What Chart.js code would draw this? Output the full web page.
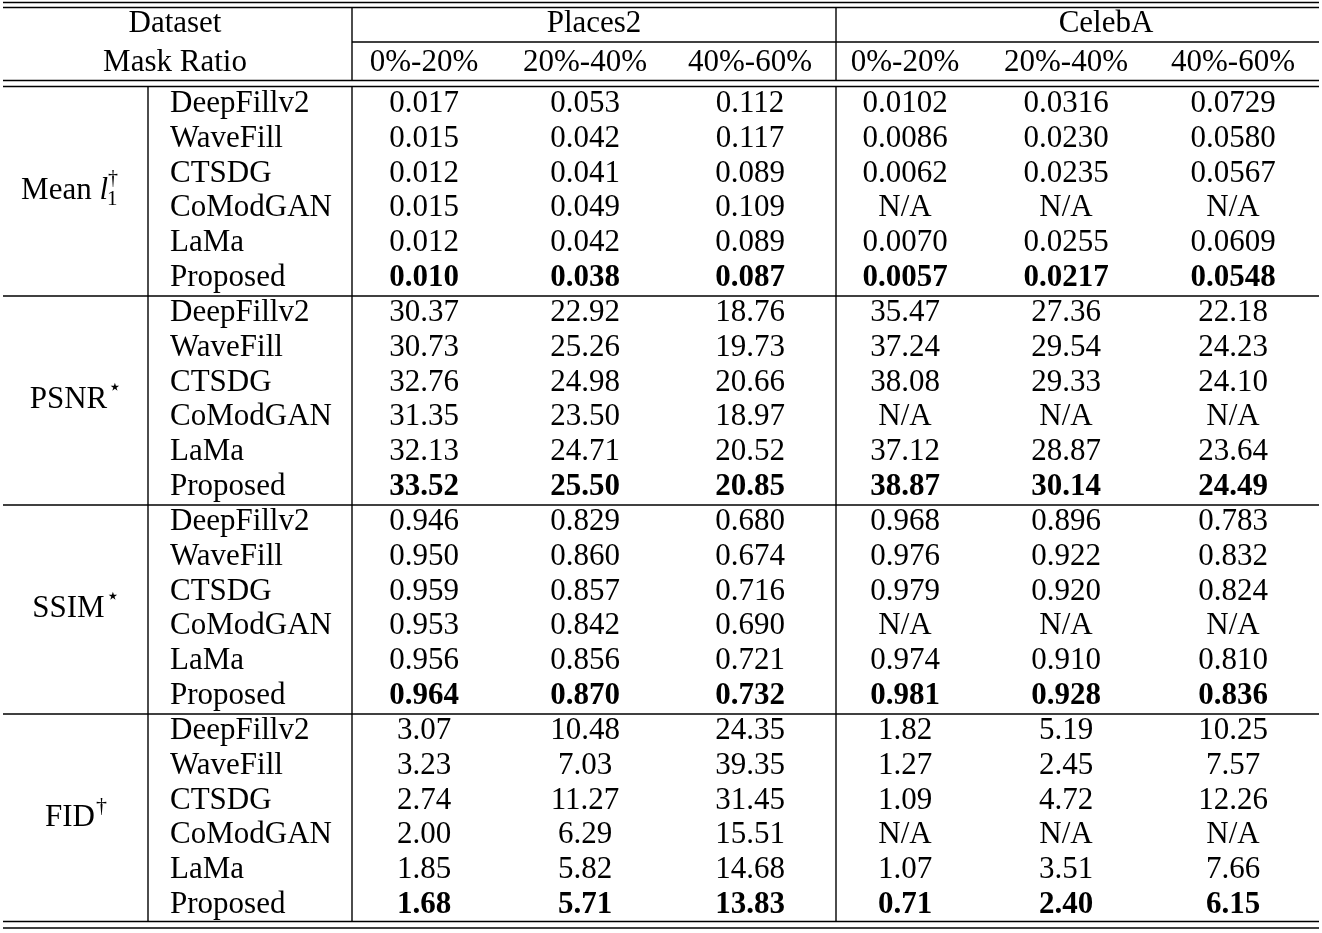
<!DOCTYPE html>
<html><head><meta charset="utf-8">
<script src="https://cdn.jsdelivr.net/npm/chart.js@4/dist/chart.umd.min.js"></script>
<style>html,body{margin:0;padding:0;background:#fff}#w{width:1322px;height:933px;position:relative}</style>
</head><body><div id="w"><canvas id="c"></canvas></div>
<script>
const datasets = ["Places2", "CelebA"];
const maskRatios = ["0%-20%", "20%-40%", "40%-60%"];
const methods = ["DeepFillv2", "WaveFill", "CTSDG", "CoModGAN", "LaMa", "Proposed"];
const metrics = ["Mean", "PSNR", "SSIM", "FID"];
const meanL1 = [
  ["0.017","0.053","0.112","0.0102","0.0316","0.0729"],
  ["0.015","0.042","0.117","0.0086","0.0230","0.0580"],
  ["0.012","0.041","0.089","0.0062","0.0235","0.0567"],
  ["0.015","0.049","0.109","N/A","N/A","N/A"],
  ["0.012","0.042","0.089","0.0070","0.0255","0.0609"],
  ["0.010","0.038","0.087","0.0057","0.0217","0.0548"]];
const psnr = [
  ["30.37","22.92","18.76","35.47","27.36","22.18"],
  ["30.73","25.26","19.73","37.24","29.54","24.23"],
  ["32.76","24.98","20.66","38.08","29.33","24.10"],
  ["31.35","23.50","18.97","N/A","N/A","N/A"],
  ["32.13","24.71","20.52","37.12","28.87","23.64"],
  ["33.52","25.50","20.85","38.87","30.14","24.49"]];
const ssim = [
  ["0.946","0.829","0.680","0.968","0.896","0.783"],
  ["0.950","0.860","0.674","0.976","0.922","0.832"],
  ["0.959","0.857","0.716","0.979","0.920","0.824"],
  ["0.953","0.842","0.690","N/A","N/A","N/A"],
  ["0.956","0.856","0.721","0.974","0.910","0.810"],
  ["0.964","0.870","0.732","0.981","0.928","0.836"]];
const fid = [
  ["3.07","10.48","24.35","1.82","5.19","10.25"],
  ["3.23","7.03","39.35","1.27","2.45","7.57"],
  ["2.74","11.27","31.45","1.09","4.72","12.26"],
  ["2.00","6.29","15.51","N/A","N/A","N/A"],
  ["1.85","5.82","14.68","1.07","3.51","7.66"],
  ["1.68","5.71","13.83","0.71","2.40","6.15"]];
const tables = [meanL1, psnr, ssim, fid];

const L = {colX:[424,585,750,905,1066,1233], methodX:170, metricX:75, rowY0:104, rowStep:34.75, secStep:209,
  font:'"Liberation Serif","Times New Roman",serif', size:31};

const tablePlugin = {
  id:'table',
  afterDraw(chart){
    const ctx = chart.ctx, X = v=>chart.scales.x.getPixelForValue(v), Y = v=>chart.scales.y.getPixelForValue(v);
    ctx.save();
    ctx.fillStyle='#000'; ctx.strokeStyle='#000'; ctx.lineWidth=1.4;
    const hl=(x1,x2,y)=>{ctx.beginPath();ctx.moveTo(X(x1),Y(y));ctx.lineTo(X(x2),Y(y));ctx.stroke();};
    const vl=(x,y1,y2)=>{ctx.beginPath();ctx.moveTo(X(x),Y(y1));ctx.lineTo(X(x),Y(y2));ctx.stroke();};
    hl(3,1319,2.5); hl(3,1319,7.5);
    hl(352,1319,42);
    hl(3,1319,80.5); hl(3,1319,86.5);
    [296,505,714].forEach(y=>hl(3,1319,y));
    hl(3,1319,921.5); hl(3,1319,928);
    vl(352,7.5,80.5); vl(836,7.5,80.5);
    vl(148,86.5,921.5); vl(352,86.5,921.5); vl(836,86.5,921.5);
    const f=(w,s,st)=>`${st||''} ${w||'normal'} ${s||L.size}px ${L.font}`;
    ctx.textBaseline='middle';
    const txt=(t,x,y,al,bold)=>{ctx.font=f(bold?'bold':'normal');ctx.textAlign=al||'center';ctx.fillText(t,X(x),Y(y));};
    txt("Dataset",175,24); txt("Mask Ratio",175,63);
    txt(datasets[0],594,24); txt(datasets[1],1106,24);
    maskRatios.concat(maskRatios).forEach((m,i)=>txt(m,L.colX[i],63));
    tables.forEach((tb,s)=>{
      const cy = L.rowY0 + s*L.secStep + 2.5*L.rowStep;
      ctx.textAlign='left';
      const sup = s===0||s===3 ? '\u2020' : '\u22C6';
      ctx.font=f(); let base=metrics[s]+(s===0?' ':'');
      let w=ctx.measureText(base).width, extra=0;
      if(s===0){ctx.font=f('normal',L.size,'italic'); extra=ctx.measureText('l').width+ctx.measureText('1').width*0.7;}
      ctx.font=f('normal',20); const sw=ctx.measureText(sup).width;
      let x0 = X(L.metricX) - (w+extra+sw)/2;
      ctx.font=f(); ctx.fillText(base,x0,Y(cy)); x0+=w;
      if(s===0){
        ctx.font=f('normal',L.size,'italic'); ctx.fillText('l',x0,Y(cy)); const lw=ctx.measureText('l').width;
        ctx.font=f('normal',21); ctx.fillText('1',x0+lw-1,Y(cy)+9);
        ctx.font=f('normal',20); ctx.fillText(sup,x0+lw,Y(cy)-12);
      } else {
        ctx.font=f('normal',22); ctx.fillText(sup,x0+1,Y(cy)-12);
      }
      tb.forEach((row,r)=>{
        const y = L.rowY0 + s*L.secStep + r*L.rowStep;
        txt(methods[r],L.methodX,y,'left');
        row.forEach((v,c)=>txt(v,L.colX[c],y,'center',r===5));
      });
    });
    ctx.restore();
  }
};

new Chart(document.getElementById('c'),{
  type:'scatter',
  data:{datasets:[{data:[]}]},
  options:{responsive:true,maintainAspectRatio:false,animation:false,
    layout:{padding:0},
    plugins:{legend:{display:false},tooltip:{enabled:false}},
    scales:{x:{type:'linear',min:0,max:1322,display:false},
            y:{type:'linear',min:0,max:933,reverse:true,display:false}}},
  plugins:[tablePlugin]
});
</script></body></html>
